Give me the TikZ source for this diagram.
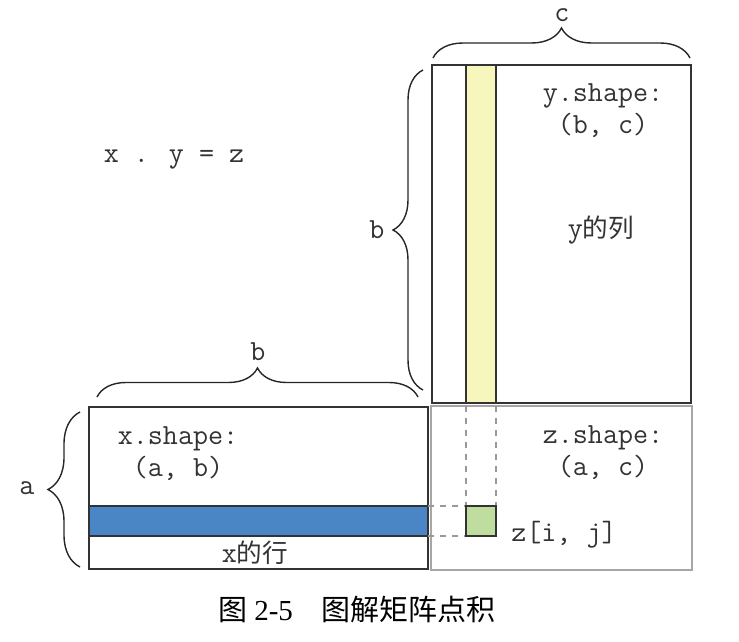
\documentclass[tikz,border=0pt]{standalone}
\usepackage{fontspec}
\setmainfont{Liberation Serif}
\newfontfamily\cjk{Noto Sans CJK SC}
\usetikzlibrary{positioning, calc, decorations.pathreplacing}

\definecolor{rowblue}{HTML}{4A86C5}
\definecolor{colyellow}{HTML}{F7F6BC}
\definecolor{cellgreen}{HTML}{C0DDA0}
\definecolor{txtgray}{HTML}{333333}

\tikzset{
  matbox/.style={line width=1pt, draw=black!80},
  zbox/.style={line width=1pt, draw=black!35},
  guide/.style={dashed, draw=black!40, line width=0.6pt},
  curly/.style={decorate, decoration={brace, amplitude=#1}, line width=0.7pt, draw=black!85},
  code/.style={font=\ttfamily\fontsize{14.6}{16}\selectfont, text=txtgray, align=center, inner sep=0pt},
}

\begin{document}
\begin{tikzpicture}[x=0.5pt, y=-0.5pt]
    \useasboundingbox (0,0) rectangle (739,642);

    % corners of the matrices
    \coordinate (x1) at (89,407);
    \coordinate (x2) at (428,569);
    \coordinate (y1) at (432,65);
    \coordinate (y2) at (691,403);
    \coordinate (z1) at (431,406);
    \coordinate (z2) at (692,570);

    % cell z[i, j]
    \coordinate (g1) at (466,506);
    \coordinate (g2) at (496,536);

    % the matrices
    \draw[matbox] (y1) rectangle (y2);
    \draw[zbox] (z1) rectangle (z2);
    \draw[matbox] (x1) rectangle (x2);

    % column of y, row of x
    \draw[matbox, fill=colyellow] (g1 |- y1) rectangle (g2 |- y2);
    \draw[matbox, fill=rowblue] (x1 |- g1) rectangle (x2 |- g2);

    % guides to the cell
    \draw[guide] (g1 |- z1) -- (g1);
    \draw[guide] (g2 |- z1) -- (g2 |- g1);
    \draw[guide] (x2 |- g1) -- (g1);
    \draw[guide] (x2 |- g2) -- (g1 |- g2);
    \draw[matbox, fill=cellgreen] (g1) rectangle (g2);

    % braces
    \draw[curly=15pt] (433,58) -- (690,58);
    \draw[curly=15pt] (423,390) -- (423,70);
    \draw[curly=14.5pt] (97,397) -- (418,397);
    \draw[curly=16pt] (80,567) -- (80,412);

    \node[code] (c) at (562,15) {c};
    \node[code] (by) at (377,230) {b};
    \node[code] (bx) at (258,352) {b};
    \node[code] (a) at (27,488) {a};

    % labels
    \node[code] (eq) at (174,160) {x . y = z};
    \node[code] (yshape) at (603,111) {y.shape:\\(b, c)};
    \node[code] (ycol) at (601,230) {y{\cjk\fontsize{12.8}{16}\selectfont 的列}};
    \node[code] (xshape) at (178,454) {x.shape:\\(a, b)};
    \node[code] (xrow) at (255,553) {x{\cjk\fontsize{12.8}{16}\selectfont 的行}};
    \node[code] (zshape) at (603,453) {z.shape:\\(a, c)};
    \node[code] (zij) at (564,535) {z[i, j]};

    % caption
    \node[font=\fontsize{14.5}{17}\selectfont] (cap) at (357,610) {{\cjk 图}~2-5\quad{\cjk 图解矩阵点积}};
\end{tikzpicture}
\end{document}
